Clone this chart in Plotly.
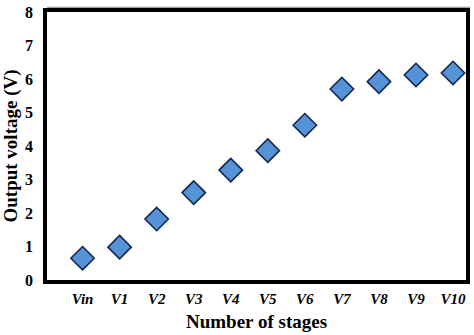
import plotly.graph_objects as go

stages = ["Vin", "V1", "V2", "V3", "V4", "V5", "V6", "V7", "V8", "V9", "V10"]
voltage = [0.65, 0.98, 1.82, 2.61, 3.28, 3.86, 4.62, 5.70, 5.92, 6.12, 6.18]
y_ticks = [0, 1, 2, 3, 4, 5, 6, 7, 8]

idx = list(range(len(stages)))
serif = "Liberation Serif, Times New Roman, serif"

fig = go.Figure()
fig.add_trace(go.Scatter(
    x=idx, y=voltage, mode="markers",
    marker=dict(symbol="diamond", size=18, color="#5593d6",
                line=dict(color="#13284f", width=1.6)),
    showlegend=False,
))

fig.update_layout(
    width=474, height=335,
    margin=dict(l=47, r=4, t=4, b=55),
    paper_bgcolor="white", plot_bgcolor="white",
    font=dict(family=serif, color="black"),
    xaxis=dict(
        range=[-0.96, 10.35], tickmode="array", tickvals=idx,
        ticktext=[f"<b><i>{s}</i></b>" for s in stages],
        tickfont=dict(size=15), showgrid=False, zeroline=False,
        showline=True, linecolor="black", linewidth=3.5, mirror=True,
        ticks="", ticklabelstandoff=2,
        title=dict(text="<b>Number of stages</b>", font=dict(size=19), standoff=10),
    ),
    yaxis=dict(
        range=[0, 8], tickmode="array", tickvals=y_ticks,
        ticktext=[f"<b>{v}</b>" for v in y_ticks],
        tickfont=dict(size=16), showgrid=False, zeroline=False,
        showline=True, linecolor="black", linewidth=3.5, mirror=True,
        ticks="", ticklabelstandoff=7, ticklabeloverflow="allow",
        title=dict(text="<b>Output voltage (V)</b>", font=dict(size=19), standoff=6),
    ),
    shapes=[dict(type="rect", xref="paper", yref="paper",
                 x0=0, x1=1.01, y0=1.003, y1=1.02,
                 fillcolor="#a0a0a0", line=dict(width=0), layer="below")],
)

fig.write_html("out.html")
